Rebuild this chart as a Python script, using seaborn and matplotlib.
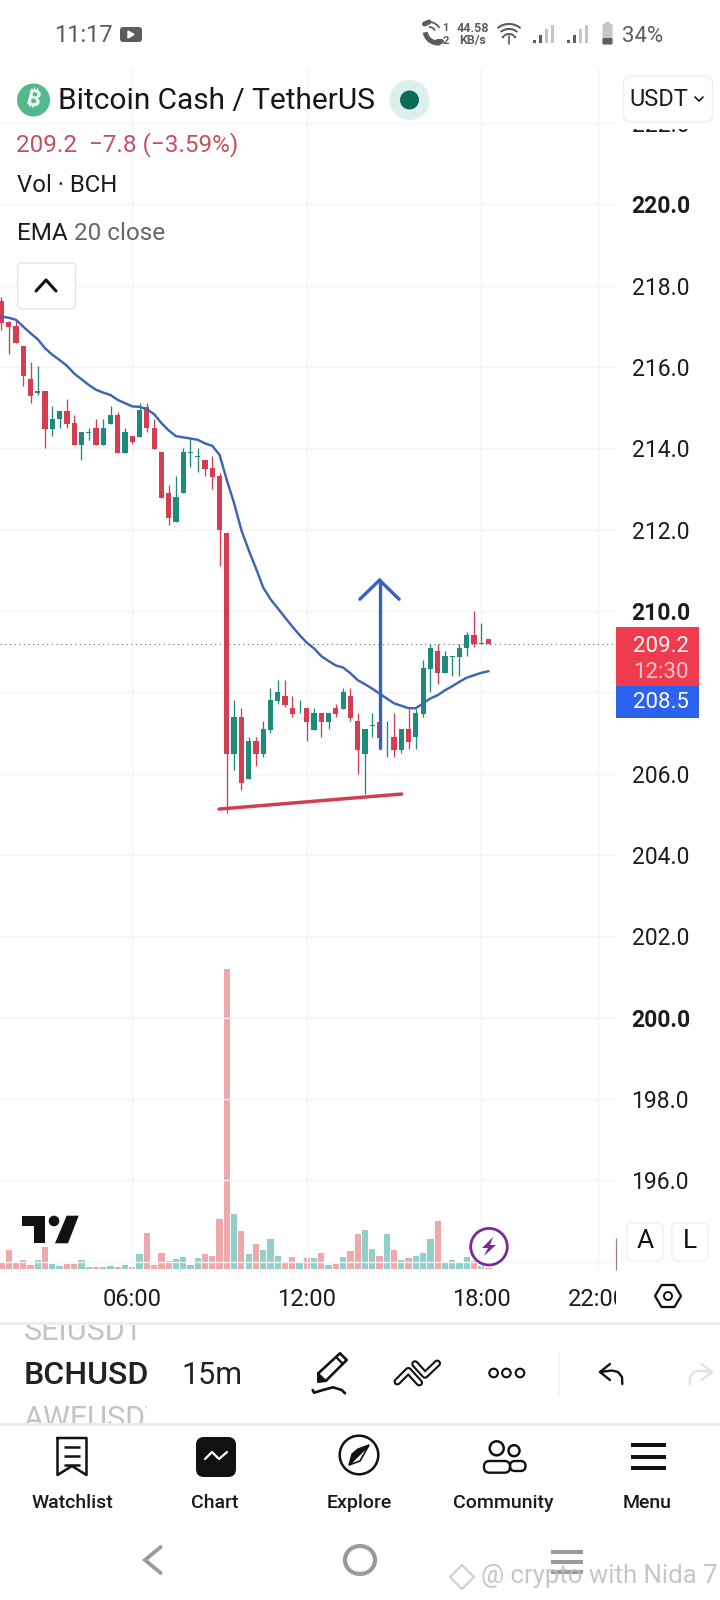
import numpy as np
import pandas as pd
import seaborn as sns
import matplotlib
matplotlib.use("Agg")
import matplotlib.pyplot as plt
from matplotlib.patches import Rectangle, FancyBboxPatch, Circle, Ellipse, Polygon

# ---------- data (15 minute bars, bar 0 = 06:00) ----------
bar_first = -18
opens = [217.63,217.11,217.01,216.52,215.71,215.37,215.41,214.48,214.71,214.92,214.62,214.08,214.37,214.50,214.08,214.60,214.82,213.89,
         214.30,214.29,215.02,214.50,213.90,212.89,212.20,212.89,213.89,213.79,213.71,213.51,213.32,211.93,206.48,207.39,205.87,206.80,
         206.48,207.07,207.79,207.91,207.61,207.48,207.61,207.07,207.49,207.28,207.61,207.59,207.91,207.29,206.48,207.18,207.28,206.89,
         206.90,206.58,207.09,206.89,207.46,208.58,209.01,208.48,208.86,208.88,209.09,209.41,209.20,209.30]
highs = [217.73,217.14,217.12,216.52,216.13,216.03,215.41,215.03,214.92,215.21,214.83,214.40,214.49,214.71,214.71,215.03,214.90,214.49,
         214.30,215.11,215.11,214.71,213.90,213.10,213.32,214.00,214.22,214.00,213.71,213.81,213.40,211.93,207.81,207.61,206.89,206.89,
         207.30,208.10,208.30,208.30,207.91,207.81,207.61,207.61,207.49,207.49,207.71,208.10,208.10,207.48,207.09,207.50,207.97,207.29,
         207.50,207.09,207.59,207.59,208.79,209.20,209.20,209.01,208.89,209.20,209.49,210.00,209.71,209.30]
lows = [216.91,216.32,216.58,215.52,215.12,215.31,214.02,214.30,214.49,214.51,214.08,213.71,214.21,214.08,214.08,214.60,213.89,213.89,
        214.11,214.29,214.41,213.99,212.79,212.12,212.20,212.89,213.53,213.43,213.32,213.00,211.11,205.03,206.09,205.60,205.87,206.19,
        206.42,207.01,207.71,207.63,207.39,207.48,206.81,207.07,206.91,207.09,207.40,207.59,207.30,206.00,205.51,206.91,206.62,206.41,
        206.41,206.51,206.60,206.60,207.40,208.01,208.20,208.48,208.40,208.41,208.89,209.12,209.20,209.20]
closes = [217.09,216.99,216.60,215.78,215.29,215.42,214.48,214.72,214.92,214.60,214.08,214.40,214.40,214.08,214.50,214.82,213.89,214.40,
          214.16,214.93,214.49,213.99,212.79,212.29,212.80,213.90,213.91,213.81,213.50,213.30,211.99,206.48,207.39,205.77,206.80,206.48,
          207.10,207.81,208.01,207.69,207.47,207.49,207.28,207.49,207.28,207.49,207.47,208.01,207.38,206.58,207.09,207.19,206.87,206.90,
          206.58,207.09,206.78,207.49,208.59,209.10,208.48,208.89,208.89,209.10,209.41,209.20,209.21,209.20]
ema20 = [217.24,217.21,217.16,216.99,216.83,216.68,216.46,216.30,216.17,216.03,215.84,215.70,215.56,215.44,215.37,215.31,215.19,215.11,
         215.03,215.02,214.96,214.84,214.62,214.44,214.30,214.27,214.24,214.21,214.12,214.06,213.84,213.22,212.65,211.99,211.50,211.05,
         210.58,210.29,210.07,209.84,209.62,209.41,209.22,209.08,208.89,208.77,208.66,208.61,208.47,208.30,208.20,208.09,207.97,207.85,
         207.73,207.67,207.61,207.61,207.73,207.85,207.93,208.05,208.15,208.26,208.36,208.42,208.48,208.52]
volumes = [20,57,20,27,11,27,65,15,9,15,15,27,5,5,5,9,5,12,
           6,45,108,12,48,24,30,36,12,33,45,39,150,900,165,114,45,75,
           57,90,39,21,36,18,33,33,48,12,15,36,54,105,117,60,39,105,
           57,27,33,39,48,90,144,18,27,18,36,24,9,2]

price_ticks = [196.0,198.0,200.0,202.0,204.0,206.0,208.0,210.0,212.0,214.0,216.0,218.0,220.0,222.0]
bold_ticks = [200.0,210.0,220.0]
hidden_ticks = [208.0]   # sits behind the price tags
time_bars = [0,24,48,64]
time_labels = ["06:00","12:00","18:00","22:00"]
last_price = 209.2
last_ema = "208.5"

# hand-drawn annotations, in bars and prices
arrow_shaft_bars = [34,34]
arrow_shaft_prices = [206.63,210.76]
arrow_head_bars = [31.3,34,36.7]
arrow_head_prices = [210.29,210.76,210.29]
support_bars = [11.93,37.06]
support_prices = [205.13,205.50]

# ---------- style ----------
RED, GREEN = "#D63D50", "#1D8B78"
VOL_RED, VOL_GREEN = "#EFA9AB", "#92CFC9"
BLUE, ARROW, LINE_RED = "#3F64B4", "#3560C4", "#D2404F"
GRID = "#F3F4F6"

sns.set_theme(style="white")
plt.rcParams["font.family"] = ["Roboto", "DejaVu Sans"]
W, H = 720, 1600
fig = plt.figure(figsize=(W/100, H/100), dpi=100, facecolor="white")

# ---------- chart pane ----------
PANE_L, PANE_R, PANE_T, PANE_B = 0, 616, 68, 1270
ax = fig.add_axes([PANE_L/W, 1-PANE_B/H, (PANE_R-PANE_L)/W, (PANE_B-PANE_T)/H])
axv = ax.twinx()
ax.set_zorder(2); axv.set_zorder(1)
ax.patch.set_visible(False)
axv.patch.set_visible(True); axv.patch.set_facecolor("white")

bars = np.arange(bar_first, bar_first+len(opens))
df = pd.DataFrame(dict(bar=bars, open=opens, high=highs, low=lows, close=closes, ema=ema20, volume=volumes))
df["side"] = np.where(df.close < df.open, "down", "up")

sns.barplot(data=df, x="bar", y="volume", hue="side", palette={"down":VOL_RED,"up":VOL_GREEN},
            native_scale=True, width=0.86, dodge=False, legend=False, saturation=1, linewidth=0, ax=axv)
axv.set_ylim(-3, 3603)
axv.set_xlabel(""); axv.set_ylabel("")
axv.set_yticks([])
axv.tick_params(labelbottom=False, length=0)

colors = np.where(df.close < df.open, RED, GREEN)
ax.vlines(df.bar, df.low, df.high, colors=colors, lw=0.95, zorder=3)
bt = df[["open","close"]].min(axis=1)
bh = (df.close-df.open).abs()
ax.bar(df.bar, bh, bottom=bt, width=0.72, color=colors, lw=0, zorder=4)
sns.lineplot(data=df, x="bar", y="ema", color=BLUE, lw=1.75, ax=ax, zorder=5, estimator=None, sort=False)
ax.axhline(last_price, color="#666666", lw=0.8, ls=(0,(1,3.2)), zorder=2)
ax.plot(support_bars, support_prices, color=LINE_RED, lw=2.5, solid_capstyle="round", zorder=6)
ax.plot(arrow_shaft_bars, arrow_shaft_prices, color=ARROW, lw=2.4, solid_capstyle="round", zorder=6)
ax.plot(arrow_head_bars, arrow_head_prices, color=ARROW, lw=2.4, solid_capstyle="round", solid_joinstyle="miter", zorder=6)

ax.set_xlim(-18.2, 66.53)
ax.set_ylim(193.797, 223.351)
ax.set_xlabel(""); ax.set_ylabel("")
ax.yaxis.tick_right()
ax.set_yticks(price_ticks)
ax.set_yticklabels(["" if p in hidden_ticks else f"{p:.1f}" for p in price_ticks])
ax.set_yticks([194.0], minor=True)
ax.set_xticks(time_bars)
ax.set_xticklabels(time_labels)
ax.tick_params(axis="y", which="both", length=0, pad=11.2, labelsize=16.5, labelcolor="#1c1c1c")
ax.tick_params(axis="x", length=0, pad=13, labelsize=17, labelcolor="#1c1c1c")
ax.tick_params(axis="y", which="minor", labelright=False)
for t, p in zip(ax.get_yticklabels(), price_ticks):
    if p in bold_ticks:
        t.set_fontweight("bold")
ax.grid(True, which="both", color=GRID, lw=1.0)
ax.set_axisbelow(True)
for s in list(ax.spines.values())+list(axv.spines.values()):
    s.set_visible(False)

# ---------- app chrome, in pixels ----------
ui = fig.add_axes([0,0,1,1], zorder=10)
ui.set_xlim(0,W); ui.set_ylim(H,0); ui.axis("off"); ui.patch.set_visible(False)

def rect(x0,y0,x1,y1,fc="white",ec="none",lw=0,z=1,r=0):
    if r:
        p = FancyBboxPatch((x0,y0),x1-x0,y1-y0,boxstyle=f"round,pad=0,rounding_size={r}",fc=fc,ec=ec,lw=lw,zorder=z)
    else:
        p = Rectangle((x0,y0),x1-x0,y1-y0,fc=fc,ec=ec,lw=lw,zorder=z)
    ui.add_patch(p); return p
def txt(x,y,s,size=16,c="#1c1c1c",ha="left",w="normal",z=5,**kw):
    return ui.text(x,y,s,fontsize=size,color=c,ha=ha,va="center",fontweight=w,zorder=z,**kw)
def poly(xs,ys,c="#111111",lw=1.5,z=5,cap="round",join="round"):
    ui.plot(xs,ys,color=c,lw=lw,solid_capstyle=cap,solid_joinstyle=join,zorder=z)
def arc(cx,cy,r,a0,a1,c,lw,z=5,sy=1.0):
    a = np.radians(np.linspace(a0,a1,40))
    poly(cx+r*np.cos(a),cy-sy*r*np.sin(a),c=c,lw=lw,z=z,cap="butt")

# covers for what the overlays hide
rect(622,0,720,129,z=1)
rect(616,1275,640,1320,z=1)

# status bar
GREY = "#5c5c5c"
txt(54,35,"11:17",17,GREY)
rect(120,27,142,42,fc=GREY,r=3,z=2)
ui.add_patch(Polygon([[128,31],[128,38],[134,34.5]],fc="white",zorder=3))
arc(438,30,13,190,280,GREY,3.6)
poly([424.5,429],[24,22],c=GREY,lw=3.6); poly([437,441],[41,41],c=GREY,lw=3.6)
arc(429,34,7,30,90,GREY,1.3); arc(429,34,12,30,90,GREY,1.3)
txt(445.5,28,"1",8,GREY,ha="center",w="bold"); txt(445.5,40.5,"2",8,GREY,ha="center",w="bold")
txt(472.7,28,"44.58",9,GREY,ha="center",w="bold"); txt(472.7,40.5,"KB/s",9,GREY,ha="center",w="bold")
for r_ in (8,13,18):
    arc(509,42,r_,50,130,GREY,1.5)
poly([509,509],[36,44],c=GREY,lw=1.2)
ui.add_patch(Circle((503,37),1.3,fc=GREY,ec="none",zorder=5)); ui.add_patch(Circle((515,37),1.3,fc=GREY,ec="none",zorder=5))
for dx in (0,34.3):
    for bx,bh_,cc in ((534,3,GREY),(540,8,GREY),(546,14,"#c4c4c4"),(552,18.5,"#c4c4c4")):
        rect(bx+dx-1.5,43-bh_,bx+dx+1.5,43,fc=cc,z=3)
rect(602.5,24,612.5,44.5,fc="#c6c6c6",r=1.5,z=3)
rect(605,22,610,24,fc="#c6c6c6",z=3)
rect(602.5,38,612.5,44.5,fc=GREY,r=1.5,z=3)
txt(622,36,"34%",16,GREY)

# header
ui.add_patch(Circle((33.5,100),16.5,fc="#52B98D",ec="none",zorder=3))
ui.text(33.5,100,"\u20bf",fontsize=15,color="white",ha="center",va="center",fontweight="bold",rotation=-14,zorder=4,
        family=["Inter","Noto Sans","Open Sans","Lato","Liberation Sans","Noto Sans CJK SC","DejaVu Sans"])
txt(58,101,"Bitcoin Cash / TetherUS",21.5,"#161616")
ui.add_patch(Circle((409.5,100),20,fc="#DCEFEC",ec="none",zorder=3))
ui.add_patch(Circle((409.5,100),9.5,fc="#0B6B5B",ec="none",zorder=4))
rect(623.5,76,712.5,122,fc="white",ec="#EFEFEF",lw=1,r=7,z=3)
txt(629,99,"USDT",17,"#1c1c1c",z=4)
poly([695,699,703],[97,101,97],lw=1.2,z=4)
txt(16,145,"209.2  \u22127.8 (\u22123.59%)",17.5,"#C7505F")
txt(17,186,"Vol \u00b7 BCH",17.2,"#1c1c1c")
txt(17,233.5,"EMA",17.5,"#1c1c1c"); txt(73.5,233.5,"20 close",17.5,"#666666")
rect(17.5,263,75.5,309,fc="white",ec="#E4E4E4",lw=1,r=4,z=3)
poly([36,46,56],[291,280,291],c="#111111",lw=2.2,z=4)

# price tags
rect(616,627,699,686,fc="#EE3B4E",z=3)
rect(616,686,699,718,fc="#2C62F0",z=3)
txt(661,646,"209.2",16,"white",ha="center")
txt(661,672,"12:30",16,"#FBC6CB",ha="center")
txt(661,702,last_ema,16,"white",ha="center")

# TradingView mark
ui.add_patch(Polygon([[22.3,1215.7],[45,1215.7],[45,1243.3],[33.7,1243.3],[33.7,1226],[22.3,1226]],fc="#111111",ec="none",zorder=4))
ui.add_patch(Circle((54,1221),5.3,fc="#111111",ec="none",zorder=4))
ui.add_patch(Polygon([[66.7,1215.7],[78.7,1215.7],[68,1243.3],[55,1243.3]],fc="#111111",ec="none",zorder=4))

# lightning badge
ui.add_patch(Circle((489,1246.7),18.3,fc="white",ec="#7A2A9C",lw=2.0,zorder=4))
ui.add_patch(Polygon([[493,1237],[482,1248],[488,1248],[484,1256],[496,1245],[490,1245]],fc="#7A2A9C",ec="none",zorder=5))

# A / L
rect(626.7,1223,663,1261,fc="white",ec="#F0F0F0",lw=1,r=6,z=3)
rect(671.7,1223,708,1261,fc="white",ec="#F0F0F0",lw=1,r=6,z=3)
txt(645,1241,"A",19,"#111111",ha="center",z=4)
txt(690,1241,"L",19,"#111111",ha="center",z=4)
poly([616.3,616.3],[1238,1270],c="#A87A78",lw=0.9,z=3,cap="butt")
poly([655,661.5,674.5,681,674.5,661.5,655],[1296,1285,1285,1296,1307,1307,1296],lw=1.6,z=4)
ui.add_patch(Circle((668,1296),4,fc="none",ec="#111111",lw=1.4,zorder=4))

# toolbar
clip_a = Rectangle((0,1324),200,40,transform=ui.transData)
t = txt(24,1331,"SEIUSDT",22,"#c4c4c4"); t.set_clip_path(clip_a); t.set_clip_on(True)
clip_b = Rectangle((0,1350),147,50,transform=ui.transData)
t = txt(24,1375,"BCHUSDT",23,"#222222",w="medium"); t.set_clip_path(clip_b); t.set_clip_on(True)
clip_c = Rectangle((0,1400),147,23,transform=ui.transData)
t = txt(24,1420,"AWEUSDT",22,"#c4c4c4"); t.set_clip_path(clip_c); t.set_clip_on(True)
txt(181,1375,"15m",22,"#222222")
rect(0,1322,720,1325,fc="#EDEDED",z=6)
rect(0,1423,720,1426,fc="#EDEDED",z=6)
# pencil
poly([318.3,340,346.7,326,318.3,318.3],[1373.3,1353.3,1360,1380.7,1381.7,1373.3],lw=1.9)
poly([336,343],[1357,1364],lw=1.6)
ui.add_patch(Polygon([[318.3,1373.3],[326,1380.7],[318.3,1381.7]],fc="#111111",ec="#111111",zorder=5))
poly([312.7,314,323,333,341.7,345],[1390,1392.7,1390,1387.3,1390,1393.3],lw=1.9)
# two chevrons
for xs,ys in (([397.3,408.3,419.3],[1381.7,1370.7,1382.7]),([415,425,437.3],[1364,1375,1363.3])):
    poly(xs,ys,lw=5.4,z=5); poly(xs,ys,c="white",lw=2.4,z=6)
for cx in (493.6,506.4,520):
    ui.add_patch(Circle((cx,1373),4.3,fc="none",ec="#111111",lw=1.5,zorder=5))
rect(558.5,1352,559.5,1395,fc="#EEEEEE",z=3)
poly([610,600,610],[1364,1372,1380],lw=1.7)
poly([600,612,618,622,622.3],[1372,1370.5,1372,1377,1384],lw=1.7)
poly([702,712,702],[1364,1372,1380],c="#E2E2E2",lw=1.7)
poly([712,700,694,690,689.7],[1372,1370.5,1372,1377,1384],c="#E2E2E2",lw=1.7)

# bottom navigation
nav = [(72,"Watchlist"),(215,"Chart"),(359,"Explore"),(503,"Community"),(647,"Menu")]
for x,s in nav:
    txt(x,1503,s,14,"#1a1a1a",ha="center",w="medium")
poly([57.5,57.5,72,86.5,86.5,57.5],[1438,1475,1466,1475,1438,1438],lw=1.8)
for yy in (1447,1456,1465):
    poly([64,80],[yy,yy],lw=1.8,cap="butt")
rect(196,1437,236,1477,fc="#111111",r=8,z=3)
poly([205,212,219,227],[1459,1452,1459,1452],c="white",lw=1.6,z=4)
ui.add_patch(Circle((359,1455),19.3,fc="none",ec="#111111",lw=1.8,zorder=5))
ui.add_patch(Polygon([[369,1445],[349,1465],[352,1454],[358,1449]],fc="#111111",ec="#111111",lw=1,zorder=5))
ui.add_patch(Polygon([[369,1445],[349,1465],[360,1461]],fc="white",ec="#111111",lw=1.2,zorder=5))
ui.add_patch(Circle((496.7,1448.3),7,fc="none",ec="#111111",lw=1.8,zorder=5))
ui.add_patch(Circle((514,1450.7),5.5,fc="none",ec="#111111",lw=1.8,zorder=5))
rect(510,1461,525.5,1471,fc="white",ec="#111111",lw=1.7,r=5,z=4)
rect(484,1461,510,1472.7,fc="white",ec="#111111",lw=1.7,r=5.5,z=5)
for yy in (1445,1457,1468):
    rect(631,yy-1.7,666,yy+1.7,fc="#111111",z=4)

# android navigation + watermark
NAVG = "#9a9a9a"
poly([160.7,145,160.7],[1547,1560,1573],c=NAVG,lw=2.7,join="miter")
ui.add_patch(Ellipse((360,1560),30,28,fc="none",ec=NAVG,lw=3,zorder=5))
for yy in (1552,1562,1572):
    rect(551,yy-1.6,583,yy+1.6,fc=NAVG,z=4)
ui.add_patch(Polygon([[462,1565],[474,1577],[462,1589],[450,1577]],fc="none",ec="#cfcfcf",lw=1.5,zorder=7))
txt(481,1576,"@ crypto with Nida 7",18.5,"#bdbdbd",z=7,alpha=0.85)

fig.savefig("out.png", dpi=100)
